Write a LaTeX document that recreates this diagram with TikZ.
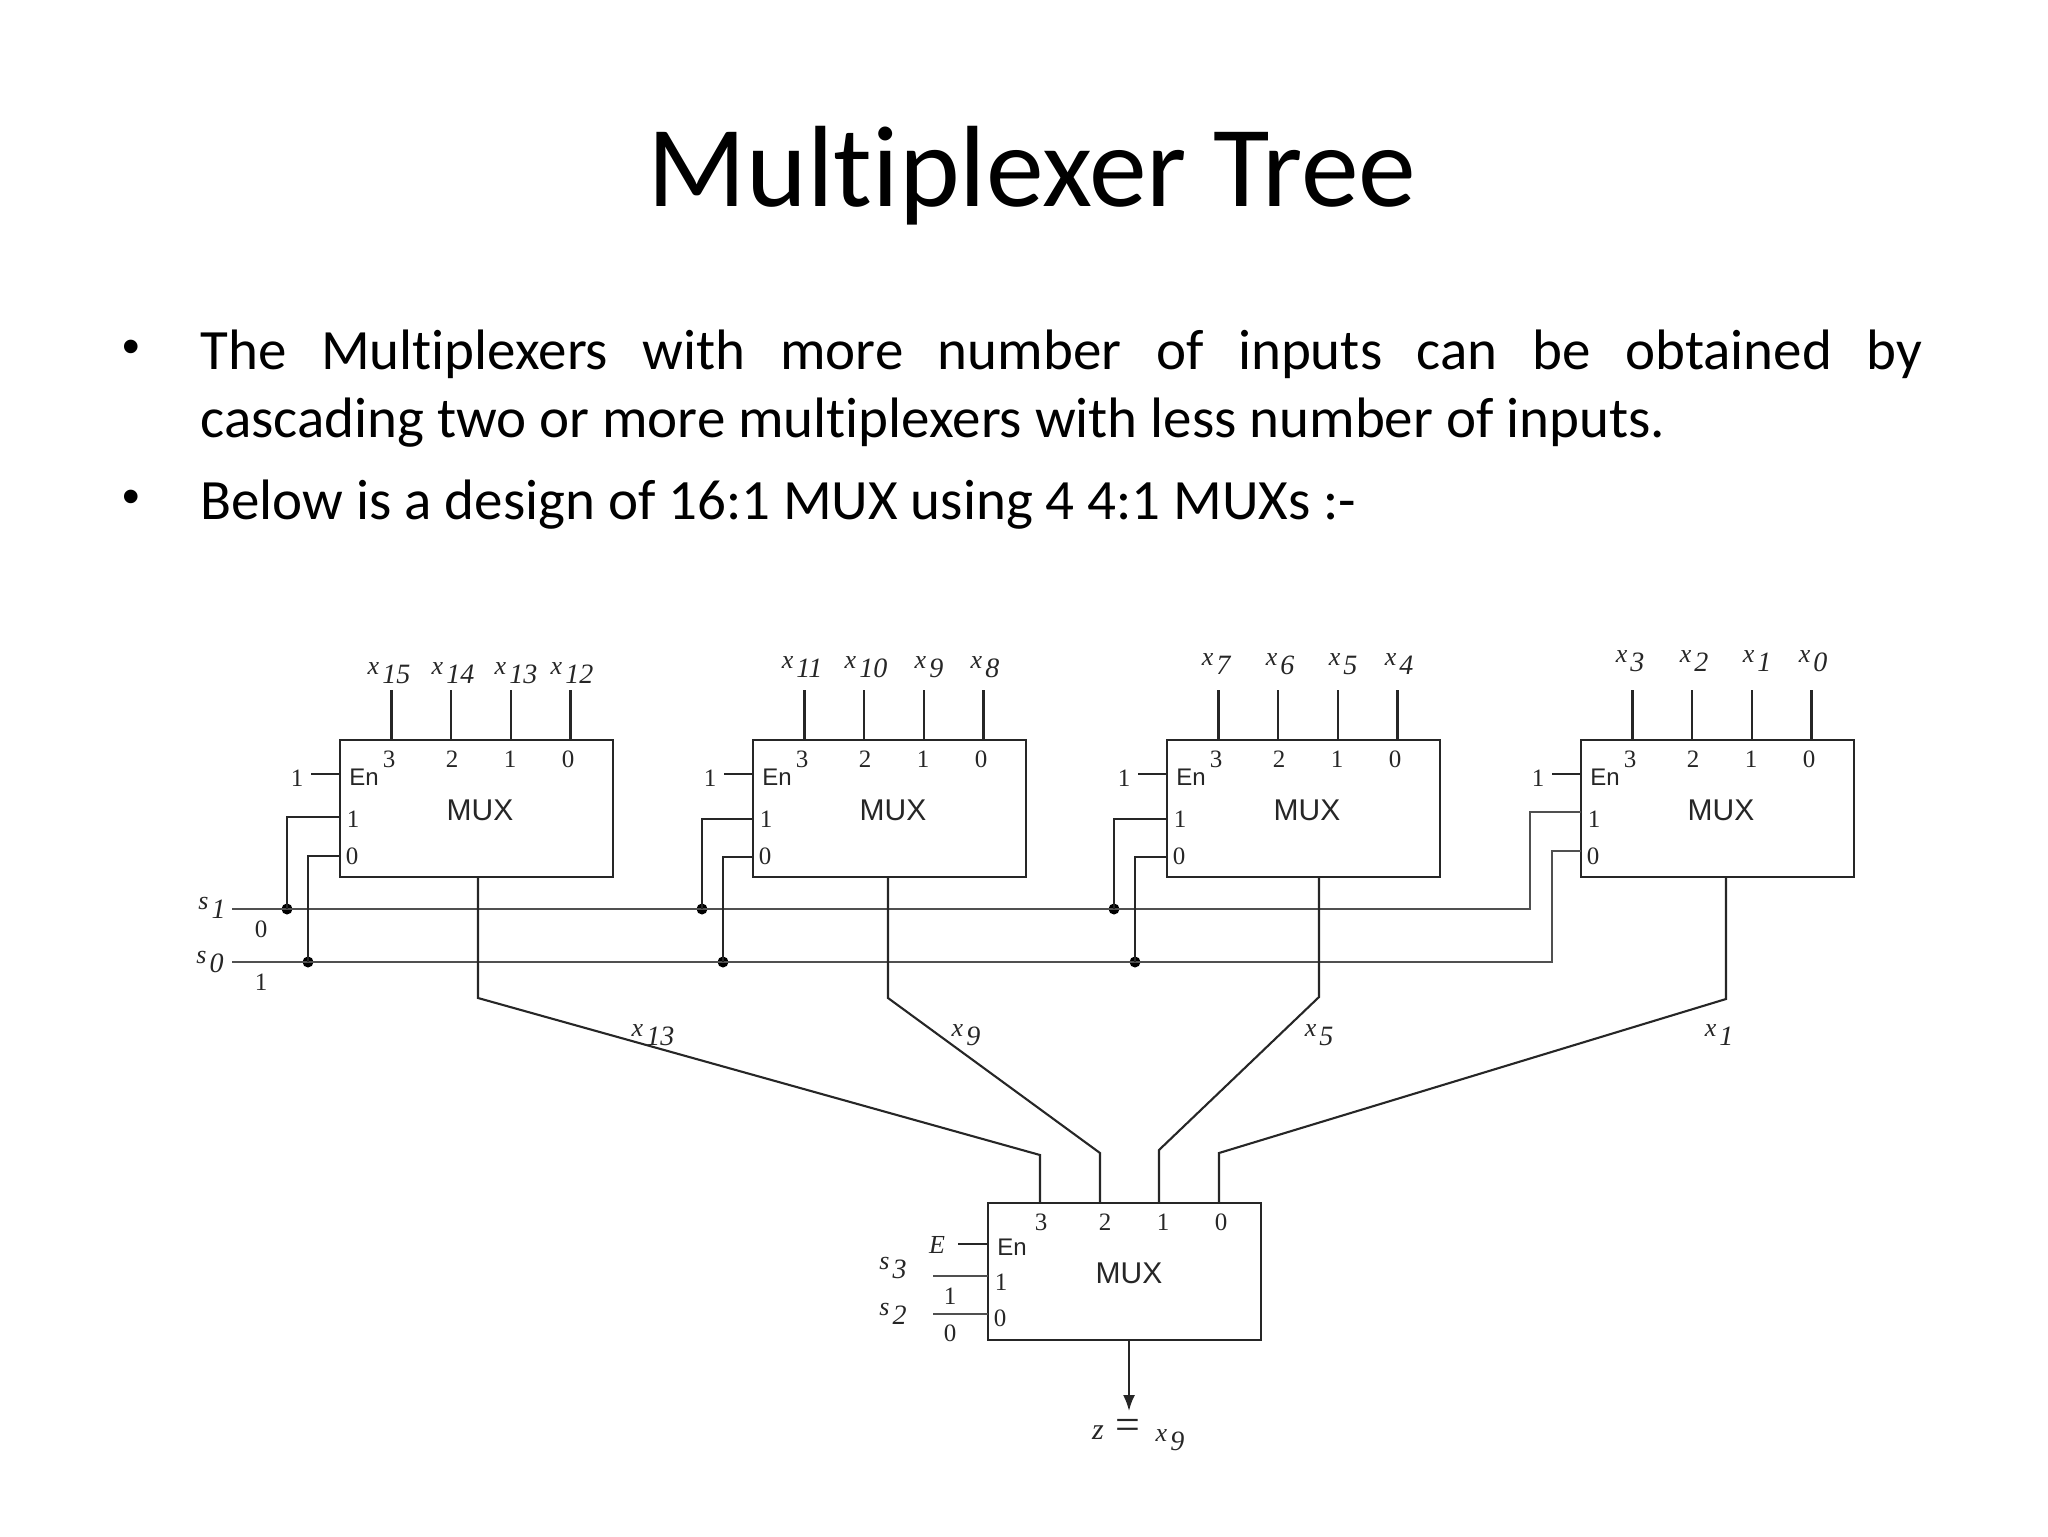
\documentclass[tikz,border=0pt]{standalone}
\usepackage{fontspec}
\usetikzlibrary{arrows.meta}
\setmainfont[Ligatures=NoCommon]{Carlito}
\newfontfamily\dfont{Liberation Serif}
\newfontfamily\hfont{Liberation Sans}
\definecolor{ink}{HTML}{262626}
\definecolor{busc}{HTML}{505050}
\newcommand\vl[2]{{\dfont\itshape #1\kern1.5pt\raisebox{-4.5pt}{\fontsize{14}{15}\selectfont #2}}}
\tikzset{
  muxbox/.style={draw=ink,line width=1.3pt,rectangle,inner sep=0pt,outer sep=0pt,minimum width=136.5pt,minimum height=68.5pt,anchor=north west},
  wire/.style={draw=ink,line width=1.05pt},
  bus/.style={draw=busc,line width=1.25pt},
  junction/.style={circle,fill=black,inner sep=0pt,minimum size=5.5pt},
  digit/.style={inner sep=0pt,text=ink,font=\dfont\fontsize{12.5}{14}\selectfont},
  varlbl/.style={inner sep=0pt,anchor=base,text=ink,font=\dfont\itshape\fontsize{13}{15}\selectfont},
  enlbl/.style={inner sep=0pt,text=ink,font=\hfont\fontsize{12}{14}\selectfont},
  muxlbl/.style={inner sep=0pt,text=ink,font=\hfont\fontsize{15}{17}\selectfont},
  bodytext/.style={inner sep=0pt,anchor=base west,font=\fontsize{28.5}{34}\selectfont},
  bulletmark/.style={inner sep=0pt,anchor=base,font=\hfont\fontsize{25}{27}\selectfont},
}
% name, left, label baseline y, port-1 y, port-0 y, subscripts
\newcommand\muxunit[9]{%
  \begin{scope}[shift={(#2,0)}]
    \node[muxbox] (#1) at (0,740) {};
    \node[muxlbl] (#1m) at (140,810) {MUX};
    \node[enlbl] (#1en) at (24,777) {En};
    \node[digit] (#1o) at (-43,778) {1};
    \coordinate (#1eo) at (-29,774);
    \draw[wire] (#1eo) -- (#1eo -| #1.west);
    \node[digit] (#1p1) at (13,819) {1};
    \node[digit] (#1p0) at (12,856) {0};
    \coordinate (#1w1) at (0,#4);
    \coordinate (#1w0) at (0,#5);
    \foreach \k/\wx/\dx/\lx/\s in {3/51.5/49/49/#6, 2/111/112/113/#7, 1/171/170/176/#8, 0/230.5/228/232/#9}{
      \node[digit] (#1d\k) at (\dx,759) {\k};
      \node[varlbl] (#1x\k) at (\lx,#3) {\vl{x}{\s}};
      \coordinate (#1t\k) at (\wx,690);
      \draw[wire] (#1t\k) -- (#1t\k |- #1.north);
    }
  \end{scope}}
\begin{document}
\begin{tikzpicture}[x=0.5pt,y=-0.5pt]
\useasboundingbox (0,0) rectangle (2048,1536);
% heading and text
\node[inner sep=0pt,anchor=base,font=\fontsize{57.8}{60}\selectfont] (title) at (1032,206) {Multiplexer Tree};
\node[bulletmark] (b1) at (131,363) {•};
\node[bulletmark] (b2) at (131,513) {•};
\node[bodytext] (t1a) at (200,369) {\makebox[861pt][s]{The Multiplexers with more number of inputs can be obtained by}};
\node[bodytext] (t1b) at (200,437) {cascading two or more multiplexers with less number of inputs.};
\node[bodytext] (t2) at (200,519) {Below is a design of 16:1 MUX using 4 4:1 MUXs :-};
% upper multiplexers
\muxunit{A}{340}{674}{817}{856}{15}{14}{13}{12}
\muxunit{B}{753}{668}{819}{857}{11}{10}{9}{8}
\muxunit{C}{1167}{665}{819}{857}{7}{6}{5}{4}
\muxunit{D}{1581}{662}{812}{851}{3}{2}{1}{0}
% select lines
\coordinate (s1s) at (232,909);
\coordinate (s0s) at (232,962);
\coordinate (k1) at (1530,812);
\coordinate (k0) at (1552,851);
\node[junction] (A1j) at (287,909) {};
\node[junction] (A0j) at (308,962) {};
\node[junction] (B1j) at (702,909) {};
\node[junction] (B0j) at (723,962) {};
\node[junction] (C1j) at (1114,909) {};
\node[junction] (C0j) at (1135,962) {};
\draw[bus] (s1s) -| (k1) -- (Dw1);
\draw[bus] (s0s) -| (k0) -- (Dw0);
\foreach \u in {A,B,C}{
  \draw[wire] (\u w1) -| (\u 1j.center);
  \draw[wire] (\u w0) -| (\u 0j.center);
}
\node[varlbl] (s1l) at (212,909) {\vl{s}{1}};
\node[varlbl] (s0l) at (210,963) {\vl{s}{0}};
\node[digit] (s1v) at (261,929) {0};
\node[digit] (s0v) at (261,982) {1};
% bottom multiplexer
\node[muxbox] (M) at (988,1203) {};
\node[muxlbl] (Mm) at (1129,1273) {MUX};
\node[enlbl] (Men) at (1012,1247) {En};
\node[digit] (Md3) at (1041,1222) {3};
\node[digit] (Md2) at (1105,1222) {2};
\node[digit] (Md1) at (1163,1222) {1};
\node[digit] (Md0) at (1221,1222) {0};
\node[digit] (Mp1) at (1001,1282) {1};
\node[digit] (Mp0) at (1000,1318) {0};
\node[varlbl] (El) at (937,1253) {E};
\node[varlbl] (s3l) at (893,1269) {\vl{s}{3}};
\node[varlbl] (s2l) at (893,1315) {\vl{s}{2}};
\node[digit] (s3v) at (950,1296) {1};
\node[digit] (s2v) at (950,1333) {0};
\coordinate (Es) at (958,1244);
\coordinate (s3s) at (933,1276);
\coordinate (s2s) at (933,1314);
\draw[wire] (Es) -- (Es -| M.west);
\draw[bus] (s3s) -- (s3s -| M.west);
\draw[bus] (s2s) -- (s2s -| M.west);
% tree connections
\coordinate (Ao) at (478,877);  \coordinate (Ab) at (478,998);
\coordinate (Bo) at (888,877);  \coordinate (Bb) at (888,998);
\coordinate (Co) at (1319,877); \coordinate (Cb) at (1319,997);
\coordinate (Do) at (1726,877); \coordinate (Db) at (1726,999);
\coordinate (Me3) at (1040,1155);
\coordinate (Me2) at (1100,1153);
\coordinate (Me1) at (1159,1150);
\coordinate (Me0) at (1219,1153);
\draw[wire] (Ao) -- (Ab) -- (Me3) -- (Me3 |- M.north);
\draw[wire] (Bo) -- (Bb) -- (Me2) -- (Me2 |- M.north);
\draw[wire] (Co) -- (Cb) -- (Me1) -- (Me1 |- M.north);
\draw[wire] (Do) -- (Db) -- (Me0) -- (Me0 |- M.north);
\node[varlbl] (l13) at (653,1036) {\vl{x}{13}};
\node[varlbl] (l9) at (966,1036) {\vl{x}{9}};
\node[varlbl] (l5) at (1319,1036) {\vl{x}{5}};
\node[varlbl] (l1) at (1719,1036) {\vl{x}{1}};
% output
\coordinate (zend) at (1129,1411);
\draw[wire,-{Latex[length=8pt,width=6pt]}] (M.south -| zend) -- (zend);
\node[varlbl,anchor=base,font=\dfont\itshape\fontsize{15}{16}\selectfont] (zl) at (1098,1439) {z};
\node[digit,anchor=base,font=\dfont\fontsize{22}{24}\selectfont] (zeq) at (1128,1439) {=};
\node[varlbl] (zx) at (1170,1441) {\vl{x}{9}};
\end{tikzpicture}
\end{document}
